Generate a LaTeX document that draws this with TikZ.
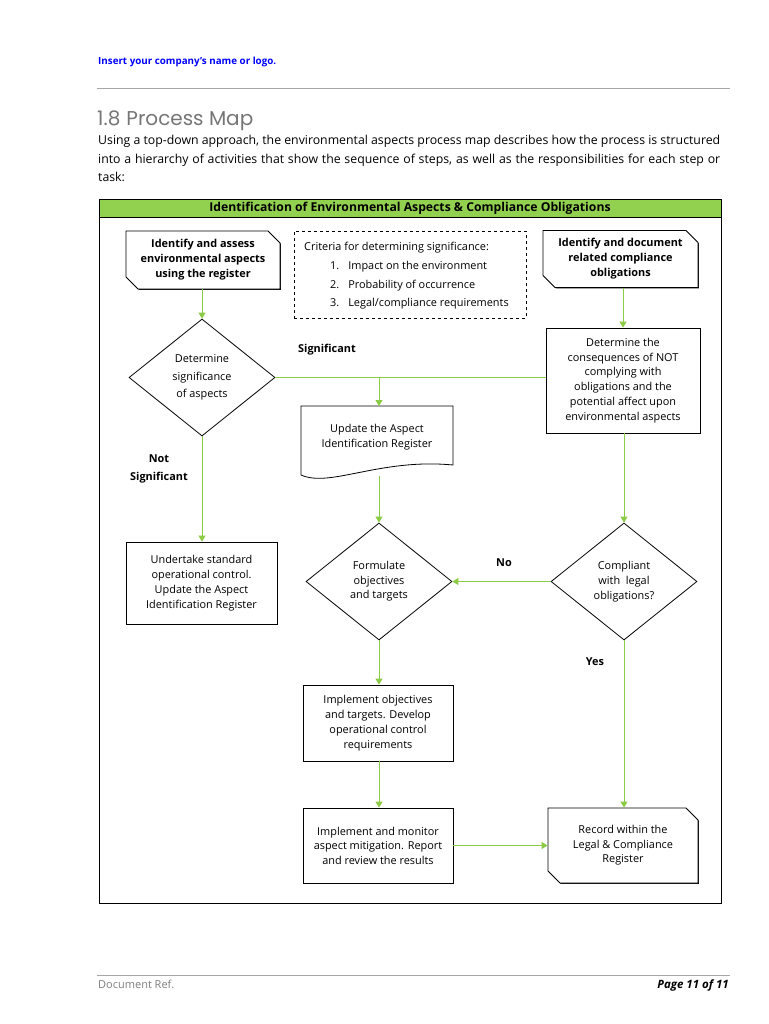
\documentclass[tikz,border=0pt]{standalone}
\usepackage{fontspec}
\setmainfont{Open Sans}
\newfontfamily\titlefont{Poppins}
\usetikzlibrary{shapes.geometric,shapes.misc,arrows.meta,shadows}
\definecolor{band}{HTML}{92D050}
\definecolor{arr}{HTML}{8CCB45}
\definecolor{rulegray}{HTML}{A6A6A6}
\definecolor{titlegray}{HTML}{767676}
\definecolor{footgray}{HTML}{808080}
\begin{document}
\begin{tikzpicture}[x=1pt,y=-1pt,
  dfont/.style={font=\fontsize{10.9}{15}\selectfont},
  box/.style={draw, line width=0.8pt, fill=white, align=center, dfont, inner sep=2pt,
    drop shadow={shadow xshift=0.9pt, shadow yshift=-0.9pt, fill=black, opacity=1}},
  snip/.style={box, chamfered rectangle, chamfered rectangle corners={north east,south west},
    chamfered rectangle xsep=6pt, chamfered rectangle ysep=6pt},
  diam/.style={diamond, draw, line width=0.8pt, fill=white, minimum width=146pt, minimum height=117pt,
    inner sep=0pt, align=center, dfont},
  flow/.style={draw=arr, line width=0.9pt},
  arrow/.style={flow, -{Triangle[length=6pt,width=7pt]}, arr},
  lbl/.style={font=\fontsize{10.9}{18}\selectfont\bfseries, align=center}
]
\fill[white] (0,0) rectangle (768,1024);
\useasboundingbox (0,0) rectangle (768,1024);

% header
\node[anchor=base west, inner sep=0, text=blue, font=\fontsize{9.8}{11}\selectfont\bfseries] (hdr) at (98,65) {Insert your company's name or logo.};
\draw[rulegray, line width=1pt] (97,89) -- (730,89);
\node[anchor=base west, inner sep=0, text=titlegray, font=\titlefont\fontsize{20}{24}\selectfont] (ttl) at (97,126) {1.8\hspace{6pt}Process Map};
\node[anchor=north west, inner sep=0, text width=622pt, align=justify, font=\fontsize{12.3}{18.6}\selectfont] (para) at (98,135)
 {Using a top-down approach, the environmental aspects process map describes how the process is structured\linebreak into a hierarchy of activities that show the sequence of steps, as well as the responsibilities for each step or\linebreak task:};

% frame
\draw[line width=0.8pt, fill=band] (99,199) rectangle (721,217);
\draw[line width=0.8pt] (99,199) rectangle (721,903);
\node[font=\fontsize{12.2}{13}\selectfont\bfseries, inner sep=0] (band) at (410,208) {Identification of Environmental Aspects \& Compliance Obligations};

% top row
\node[snip, font=\fontsize{10.9}{15}\selectfont\bfseries, minimum width=154pt, minimum height=58pt] (tl) at (203,260)
 {Identify and assess\\environmental aspects\\using the register};
\node[draw, dashed, line width=0.7pt, minimum width=232pt, minimum height=87pt] (crit) at (410,274.5) {};
\node[anchor=base west, inner sep=0, dfont] (c0) at (304,251) {Criteria for determining significance:};
\node[anchor=base west, inner sep=0, dfont] (c1) at (330,269.5) {1.\hspace{9pt}Impact on the environment};
\node[anchor=base west, inner sep=0, dfont] (c2) at (330,288) {2.\hspace{9pt}Probability of occurrence};
\node[anchor=base west, inner sep=0, dfont] (c3) at (330,306.5) {3.\hspace{9pt}Legal/compliance requirements};
\node[snip, font=\fontsize{10.9}{15}\selectfont\bfseries, minimum width=155pt, minimum height=56pt] (tr) at (620.5,259)
 {Identify and document\\related compliance\\obligations};

% second row
\node[diam, font=\fontsize{10.9}{17.5}\selectfont] (d1) at (202,377.5) {Determine\\significance\\of aspects};
\node[box, minimum width=154pt, minimum height=105pt, font=\fontsize{10.9}{14.7}\selectfont] (cons) at (623,380.5)
 {Determine the\\consequences of NOT\\complying with\\obligations and the\\potential affect upon\\environmental aspects};

% document shape
\draw[line width=0.8pt, fill=white] (301,406) -- (453,406) -- (453,465)
  .. controls (380,458) and (330,488) .. (301,475) -- cycle;
\node[align=center, dfont, inner sep=0] (doc) at (377,437) {Update the Aspect\\Identification Register};
\coordinate (doctop) at (379,406);
\coordinate (docbot) at (379,476);

% third row
\node[box, minimum width=151pt, minimum height=82pt] (und) at (201.5,583)
 {Undertake standard\\operational control.\\Update the Aspect\\Identification Register};
\node[diam, font=\fontsize{10.9}{14.5}\selectfont] (d2) at (379,581.5) {Formulate\\objectives\\and targets};
\node[diam, font=\fontsize{10.9}{15}\selectfont] (d3) at (624,581.5) {Compliant\\with\ \ legal\\obligations?};

% bottom rows
\node[box, minimum width=150pt, minimum height=76pt] (imp1) at (378,723)
 {Implement objectives\\and targets. Develop\\operational control\\requirements};
\node[box, minimum width=150pt, minimum height=75pt, font=\fontsize{10.9}{14.5}\selectfont] (imp2) at (378,845.5)
 {Implement and monitor\\aspect mitigation. Report\\and review the results};
\node[snip, minimum width=150pt, minimum height=75pt, font=\fontsize{10.9}{14.5}\selectfont] (rec) at (623,845.5)
 {Record within the\\Legal \& Compliance\\Register};

% connectors
\draw[arrow] (tl.south -| d1.north) -- (d1.north);
\draw[arrow] (tr.south -| cons.north) -- (cons.north);
\draw[flow] (d1.east) -- (d1.east -| cons.west);
\coordinate (junc) at (doctop |- d1.east);
\draw[arrow] (junc) -- (doctop);
\draw[arrow] (docbot) -- (d2.north);
\draw[arrow] (cons.south -| d3.north) -- (d3.north);
\draw[arrow] (d3.west) -- (d2.east);
\draw[arrow] (d1.south) -- (d1.south |- und.north);
\draw[arrow] (d2.south) -- (d2.south |- imp1.north);
\draw[arrow] (imp1.south -| d2.south) -- (imp2.north -| d2.south);
\draw[arrow] (imp2.east) -- (rec.west);
\draw[arrow] (d3.south) -- (d3.south |- rec.north);

% labels
\node[lbl] (lsig) at (327,350) {Significant};
\node[lbl] (lnot) at (159,469) {Not\\Significant};
\node[lbl] (lno) at (504,563) {No};
\node[lbl] (lyes) at (595,662) {Yes};

% footer
\draw[rulegray, line width=1pt] (97,975) -- (730,975);
\node[anchor=base west, inner sep=0, text=footgray, font=\fontsize{11}{12}\selectfont] (docref) at (98,988) {Document Ref.};
\node[anchor=base east, inner sep=0, font=\fontsize{11.5}{12}\selectfont\bfseries\itshape] (pg) at (729,988) {Page 11 of 11};
\end{tikzpicture}
\end{document}
